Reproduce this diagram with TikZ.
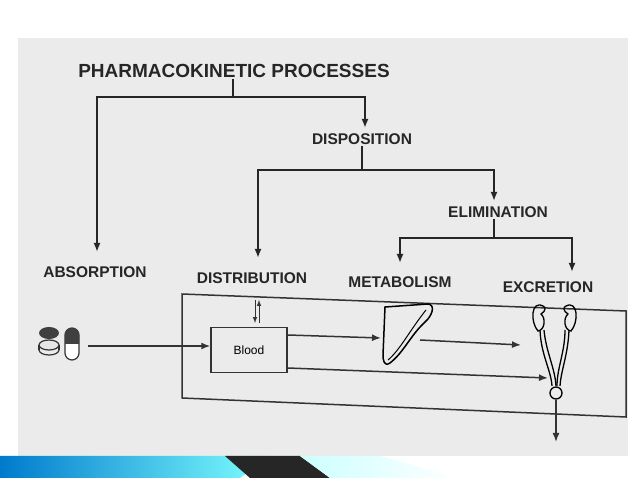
\documentclass[tikz,border=0pt]{standalone}
\usepackage{fontspec}
\setmainfont{Liberation Sans}
\usetikzlibrary{arrows.meta}
\begin{document}
\begin{tikzpicture}[x=1pt,y=-1pt,
  lbl/.style={font=\bfseries\fontsize{15.5}{17}\selectfont, text=black!85, inner sep=1pt},
  ln/.style={line width=2.2pt, draw=black!85},
  arr/.style={ln,-{Latex[length=9pt,width=7pt]}},
  thin/.style={line width=1.5pt, draw=black!80},
  tarr/.style={thin,-{Latex[length=9pt,width=7pt]}}]
\fill[white] (0,0) rectangle (638,478);
\fill[black!8] (18,38) rectangle (628,456);
% blue band
\shade[left color=cyan!60!blue!80!black, right color=cyan!50] (0,456) -- (270,456) -- (240,478) -- (0,478) -- cycle;
\fill[black!85] (225,456) -- (300,456) -- (330,478) -- (250,478) -- cycle;
\shade[left color=cyan!20, right color=white] (300,456) -- (380,456) -- (460,478) -- (330,478) -- cycle;

\node[lbl,font=\bfseries\fontsize{19}{21}\selectfont] (pk) at (234,71) {PHARMACOKINETIC PROCESSES};
\node[lbl] (disp) at (362,139) {DISPOSITION};
\node[lbl] (elim) at (498,212) {ELIMINATION};
\node[lbl] (abs) at (95,272) {ABSORPTION};
\node[lbl] (dist) at (252,278) {DISTRIBUTION};
\node[lbl] (met) at (400,282) {METABOLISM};
\node[lbl] (exc) at (548,287) {EXCRETION};

\coordinate (j1) at (233,97);
\draw[ln] (pk.south -| j1) -- (j1);
\draw[arr] (j1) -| (97,252);
\draw[arr] (j1) -| (365,128);
\coordinate (j2) at (362,170);
\draw[ln] (disp.south -| j2) -- (j2);
\draw[arr] (j2) -| (258,258);
\draw[arr] (j2) -| (494,201);
\coordinate (j3) at (494,238);
\draw[ln] (elim.south -| j3) -- (j3);
\draw[arr] (j3) -| (400,263);
\draw[arr] (j3) -| (572,272);

% big box
\draw[thin] (182,294) -- (626,311) -- (626,417) -- (182,398) -- cycle;
\node[draw=black!80,line width=1.5pt,minimum width=76pt,minimum height=45pt,font=\fontsize{12}{14}\selectfont] (blood) at (249,350) {Blood};
% exchange arrows
\draw[thin,line width=1pt,-latex] (255,300) -- (255,323);
\draw[thin,line width=1pt,-latex] (259,323) -- (259,300);
% pills
\begin{scope}[line width=1.2pt,draw=black!80]
\fill[black!75] (49,333) ellipse (10pt and 6pt);
\draw[fill=black!10] (49,345) ellipse (10pt and 5pt);
\draw (39,345) -- (39,350) (59,345) -- (59,350);
\draw (39,350) arc (180:360:10pt and 5pt);
\draw[fill=white] (65,335) arc (180:0:7pt) -- (79,353) arc (0:-180:7pt) -- cycle;
\fill[black!75] (65,335) arc (180:0:7pt) -- (79,344) -- (65,344) -- cycle;
\end{scope}
\coordinate (pillR) at (88,346);
\draw[tarr] (pillR) -- (blood.west |- 0,346);
% liver
\draw[line width=1.5pt] (385,307) -- (428,304) .. controls (436,305) and (432,316) .. (425,322)
  .. controls (410,336) and (404,352) .. (390,363) .. controls (384,367) and (383,360) .. (383,355) -- cycle;
\draw[line width=1pt] (426,310) .. controls (410,330) and (400,350) .. (388,360);
\coordinate (liverL) at (381,338);
\coordinate (liverR) at (420,340);
\draw[tarr] (blood.east |- 0,335) -- (liverL);
% kidneys and bladder
\begin{scope}[line width=1.3pt]
\draw (543,306) .. controls (531,300) and (530,322) .. (538,331) .. controls (545,330) and (546,318) .. (541,314) .. controls (546,311) and (546,307) .. cycle;
\draw (566,306) .. controls (578,300) and (579,322) .. (571,331) .. controls (564,330) and (563,318) .. (568,314) .. controls (563,311) and (563,307) .. cycle;
\draw (540,330) .. controls (541,355) and (551,370) .. (552,386);
\draw (544,330) .. controls (546,352) and (555,368) .. (556,386);
\draw (569,330) .. controls (568,355) and (561,370) .. (560,386);
\draw (565,330) .. controls (565,352) and (557,368) .. (557,386);
\draw (556,393) circle (6pt);
\end{scope}
\coordinate (kid) at (521,345);
\coordinate (bl) at (548,378);
\coordinate (bladder) at (556,400);
\coordinate (out) at (556,442);
\draw[tarr] (liverR) -- (kid);
\draw[tarr] (blood.east |- 0,368) -- (bl);
\draw[tarr] (bladder) -- (out);
\end{tikzpicture}
\end{document}
